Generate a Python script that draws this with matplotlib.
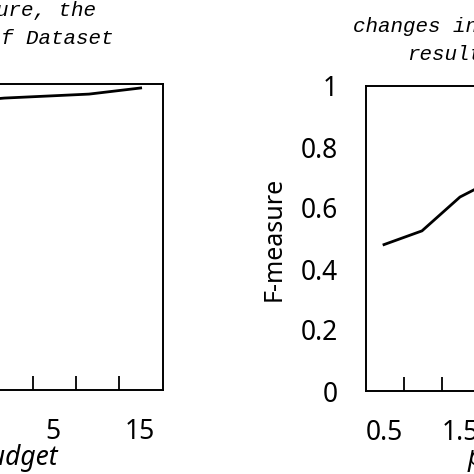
import matplotlib.pyplot as plt

# left panel (only partly visible)
left_x = [-4.0, 0.33, 2.3, 3.5]
left_y = [0.90, 0.954, 0.967, 0.987]
left_ticks = [1, 2, 3]
left_label_pos = [1.47, 3.49]
left_labels = ["5", "15"]

# right panel
right_x = [0.5, 1.0, 1.5, 2.0, 2.5]
right_y = [0.48, 0.525, 0.636, 0.70, 0.72]
right_ticks = [0.76, 1.26, 1.76, 2.26]
right_label_pos = [0.5, 1.5]
right_labels = ["0.5", "1.5"]
yticks = [0, 0.2, 0.4, 0.6, 0.8, 1]
ytick_labels = ["0", "0.2", "0.4", "0.6", "0.8", "1"]

plt.rcParams['font.family'] = ['Noto Sans', 'DejaVu Sans']
H = 474.0
fig = plt.figure(figsize=(4.74, 4.74), dpi=100)

def px(x0, y0, x1, y1):
    return [x0 / H, 1 - y1 / H, (x1 - x0) / H, (y1 - y0) / H]

def style(ax, ticks, label_pos, labels):
    ax.set_xticks(ticks)
    ax.set_xticklabels([])
    ax.set_xticks(label_pos, minor=True)
    ax.set_xticklabels(labels, minor=True, fontsize=19)
    ax.tick_params(axis='x', which='major', direction='in', length=10, width=1.3)
    ax.tick_params(axis='x', which='minor', length=0, pad=20)
    for s in ax.spines.values():
        s.set_linewidth(1.4)

axl = fig.add_axes(px(-200, 84, 163, 390))
axl.plot(left_x, left_y, color='black', lw=2)
axl.set_xlim(-4.42, 4.02)
axl.set_ylim(0, 1)
axl.set_yticks([])
style(axl, left_ticks, left_label_pos, left_labels)
fig.text(58 / H, 1 - 458 / H, "Budget", fontsize=19, style='italic', ha='right', va='center')

axr = fig.add_axes(px(366, 86, 700, 391))
axr.plot(right_x, right_y, color='black', lw=2)
axr.set_xlim(0.263, 4.66)
axr.set_ylim(0, 1)
axr.set_yticks(yticks)
axr.set_yticklabels(ytick_labels, fontsize=19)
axr.tick_params(axis='y', length=0, pad=20)
style(axr, right_ticks, right_label_pos, right_labels)
axr.set_ylabel("F-measure", fontsize=18, labelpad=10)
fig.text(468 / H, 1 - 458 / H, "p", fontsize=19, style='italic', ha='left', va='center')

mono = dict(family='Liberation Mono', style='italic', fontsize=15)
fig.text(96 / H, 1 - 10 / H, "F-measure, the", ha='right', va='center', **mono)
fig.text(113 / H, 1 - 38 / H, "size of Dataset", ha='right', va='center', **mono)
fig.text(353 / H, 1 - 26 / H, "changes in the", ha='left', va='center', **mono)
fig.text(407 / H, 1 - 55 / H, "results", ha='left', va='center', **mono)

fig.savefig("out.png", dpi=100)
